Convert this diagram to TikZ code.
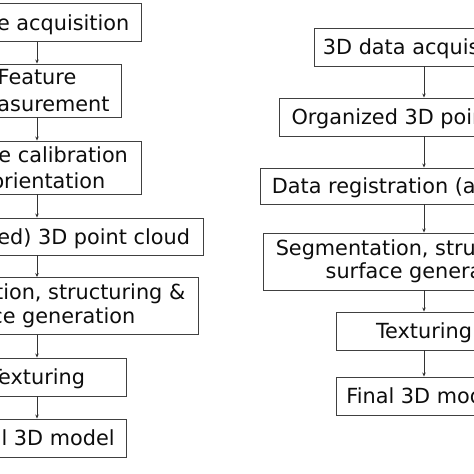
\documentclass[tikz,border=0pt]{standalone}
\usepackage{fontspec}
\setmainfont{DejaVu Sans}
\usetikzlibrary{arrows.meta}
\begin{document}
\begin{tikzpicture}[x=1pt,y=-1pt,
  box/.style={draw=black!75, line width=0.9pt, align=center, inner sep=0pt,
    font=\fontsize{20.8}{25}\selectfont, text=black!95},
  one/.style={text height=15pt, text depth=0pt},
  link/.style={draw=black!80, line width=0.8pt, -{Stealth[length=4pt,width=3.5pt]}}]
\useasboundingbox (0,0) rectangle (474,474);
\clip (0,0) rectangle (474,474);
% left column
\node[box, one, minimum width=208pt, minimum height=38pt] (a1) at (37,22.5) {Image acquisition};
\node[box, minimum width=168pt, minimum height=53pt, font=\fontsize{20.8}{26.5}\selectfont] (a2) at (37,90.5) {Feature\\measurement};
\node[box, minimum width=208pt, minimum height=53pt, font=\fontsize{20.8}{26.5}\selectfont] (a3) at (37,167.5) {Image calibration\\\& orientation};
\node[box, one, minimum width=332pt, minimum height=37pt] (a4) at (37,236.5) {(Unorganized) 3D point cloud};
\node[box, minimum width=322pt, minimum height=57pt, font=\fontsize{20.8}{23.5}\selectfont] (a5) at (37,306) {Segmentation, structuring \&\\surface generation};
\node[box, one, minimum width=178pt, minimum height=38pt] (a6) at (37,377) {Texturing};
\node[box, one, minimum width=178pt, minimum height=38pt] (a7) at (37,438) {Final 3D model};
% right column
\node[box, one, minimum width=220pt, minimum height=38pt] (b1) at (424,47) {3D data acquisition};
\node[box, one, minimum width=290pt, minimum height=38pt] (b2) at (424,117) {Organized 3D point cloud};
\node[box, one, minimum width=328pt, minimum height=36pt] (b3) at (424,186) {Data registration (alignment)};
\node[box, minimum width=322pt, minimum height=57pt, font=\fontsize{20.8}{23.5}\selectfont] (b4) at (424,261.5) {Segmentation, structuring \&\\surface generation};
\node[box, one, minimum width=176pt, minimum height=38pt] (b5) at (424,331) {Texturing};
\node[box, one, minimum width=176pt, minimum height=38pt] (b6) at (424,396) {Final 3D model};
% connectors
\foreach \s/\t in {a1/a2,a2/a3,a3/a4,a4/a5,a5/a6,a6/a7,b1/b2,b2/b3,b3/b4,b4/b5,b5/b6}
  \draw[link] (\s) -- (\t);
\end{tikzpicture}
\end{document}
